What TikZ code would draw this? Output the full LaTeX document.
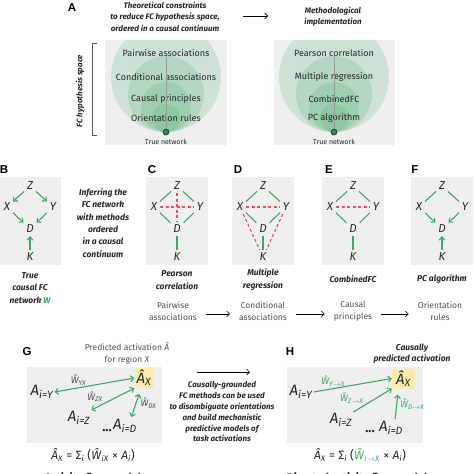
\documentclass[tikz,border=0pt]{standalone}
\usepackage{fontspec}
\setmainfont{Fira Sans}
\newfontfamily\panelfont{Liberation Sans}
\usetikzlibrary{arrows.meta}
\usetikzlibrary{positioning}
\definecolor{fcgreen}{RGB}{60,170,100}
\definecolor{fcred}{RGB}{230,80,100}
\definecolor{boxgray}{RGB}{239,239,239}
\definecolor{hlyellow}{RGB}{250,236,170}
\definecolor{txtgray}{RGB}{80,80,80}
\definecolor{txtdark}{RGB}{40,40,40}
\newcommand{\lowidx}[1]{\textsubscript{#1}}
\tikzstyle{panel}=[font=\panelfont\bfseries\fontsize{11.5}{12}\selectfont, inner sep=0pt]
\tikzstyle{heading}=[font=\bfseries\itshape\fontsize{8}{11.5}\selectfont,
  text=txtdark, align=center, inner sep=0pt]
\tikzstyle{stagelab}=[font=\fontsize{8.5}{12}\selectfont, text=txtgray,
  align=center, inner sep=0pt]
\tikzstyle{ringlab}=[font=\fontsize{9}{10}\selectfont, text=txtdark, inner sep=0pt]
\tikzstyle{smalltxt}=[font=\fontsize{7}{8}\selectfont, text=txtdark, inner sep=0pt]
\tikzstyle{graybox}=[fill=boxgray]
\tikzstyle{hypo}=[fill=fcgreen, fill opacity=0.18]
\tikzstyle{dotnet}=[circle, fill=fcgreen!80!black, draw=fcgreen!35!black,
  line width=0.6pt, minimum size=6pt, inner sep=0pt]
\tikzstyle{axis}=[draw=gray!80, line width=0.5pt]
\tikzstyle{bracket}=[draw=gray!70!black, line width=0.6pt]
\tikzstyle{vtx}=[font=\itshape\fontsize{11.5}{12}\selectfont, text=txtdark, inner sep=2pt]
\tikzstyle{undir}=[draw=fcgreen, line width=1.1pt, shorten >=1pt, shorten <=1pt]
\tikzstyle{spur}=[draw=fcred, line width=1.1pt, dash pattern=on 3pt off 2.5pt,
  shorten >=1pt, shorten <=1pt]
\tikzstyle{arrc}=[undir, -{Straight Barb[length=3.2pt,width=6pt]}]
\tikzstyle{flow}=[-{Straight Barb[length=3pt,width=6pt]}, line width=0.6pt]
\tikzstyle{avar}=[font=\itshape\fontsize{15}{15}\selectfont, text=txtdark, inner sep=1pt]
\tikzstyle{wlab}=[font=\itshape\fontsize{9.5}{9.5}\selectfont, text=txtgray, inner sep=1pt]
\tikzstyle{darr}=[draw=fcgreen, line width=1.1pt,
  {Straight Barb[length=3pt,width=6pt]}-{Straight Barb[length=3pt,width=6pt]}]
\tikzstyle{sarr}=[draw=fcgreen, line width=1.1pt, -{Straight Barb[length=3pt,width=6pt]}]
\tikzstyle{formula}=[font=\fontsize{12}{12}\selectfont, text=txtdark, inner sep=0pt]
\tikzstyle{modelname}=[font=\bfseries\fontsize{11}{12}\selectfont, text=txtdark, inner sep=0pt]

\begin{document}
\begin{tikzpicture}[x=1pt, y=-1pt]
\useasboundingbox (0,0) rectangle (474,474);

% A: hypothesis space and its implementation
\node[panel] (lblA) at (72,8) {A};
\node[heading] (theory) at (165,16.5) {Theoretical constraints\\to reduce FC hypothesis space,\\ordered in a causal continuum};
\node[heading] (method) at (333,16.5) {Methodological\\implementation};
\coordinate (theory-out) at (243,16);
\coordinate (method-in) at (268,16);
\draw[flow] (theory-out) -- (method-in);

\fill[graybox] (105,40) rectangle (227,145);
\fill[graybox] (274,40) rectangle (395,145);
\foreach \cx/\s in {166/l, 334/r}{
  \begin{scope}
    \clip (\cx-61,40) rectangle (\cx+61,145);
    \fill[hypo] (\cx,77) circle[radius=55pt];
    \fill[hypo] (\cx,94) circle[radius=38pt];
    \fill[hypo] (\cx,107) circle[radius=25pt];
    \fill[hypo] (\cx,118) circle[radius=14pt];
  \end{scope}
  \node[dotnet] (true-\s) at (\cx,132) {};
  \node[smalltxt] (truelab-\s) at (\cx,141.5) {True network};
}
\node[ringlab] (pw) at (166,53) {Pairwise associations};
\node[ringlab] (ca) at (166,77) {Conditional associations};
\node[ringlab] (cp) at (166,99) {Causal principles};
\node[ringlab] (or) at (166,118) {Orientation rules};
\node[ringlab] (pc) at (334,53) {Pearson correlation};
\node[ringlab] (mr) at (334,77) {Multiple regression};
\node[ringlab] (cf) at (334,99) {CombinedFC};
\node[ringlab] (pa) at (334,118) {PC algorithm};
\draw[axis] (pw.south) -- (true-l.north);
\draw[axis] (pc.south) -- (true-r.north);

\draw[bracket] (97,43) -- (92,43) -- (92,135) -- (97,135);
\node[heading, rotate=90] (hypspace) at (80,91) {FC hypothesis space};

% B--F: networks
\foreach \p/\cx/\l in {b/30/B, c/177/C, d/263/D, e/353/E, f/442/F}{
  \fill[graybox] (\cx-31,177) rectangle (\cx+31,265);
  \node[vtx] (\p-Z) at (\cx,186) {Z};
  \node[vtx] (\p-X) at (\cx-23,207) {X};
  \node[vtx] (\p-Y) at (\cx+23,207) {Y};
  \node[vtx] (\p-D) at (\cx,229) {D};
  \node[vtx] (\p-K) at (\cx,257) {K};
}
\node[panel] (lblB) at (4,170) {B};
\node[panel] (lblC) at (152,170) {C};
\node[panel] (lblD) at (238,170) {D};
\node[panel] (lblE) at (329,170) {E};
\node[panel] (lblF) at (415,170) {F};

\foreach \a/\b in {Z/X, Z/Y, X/D, Y/D, K/D}
  \draw[arrc] (b-\a) -- (b-\b);
\foreach \p in {c,d,e}
  \foreach \a/\b in {Z/X, Z/Y, X/D, Y/D, D/K}
    \draw[undir] (\p-\a) -- (\p-\b);
\draw[spur] (c-X) -- (c-Y);
\draw[spur] (c-Z) -- (c-D);
\draw[spur] (d-X) -- (d-Y);
\draw[spur] (d-X) -- (d-K);
\draw[spur] (d-Y) -- (d-K);
\draw[spur] (e-X) -- (e-Y);
\draw[undir] (f-Z) -- (f-X);
\draw[undir] (f-Z) -- (f-Y);
\foreach \a in {X,Y,K}
  \draw[arrc] (f-\a) -- (f-D);

\node[heading, font=\bfseries\itshape\fontsize{8.5}{12.5}\selectfont] (truew) at (30,288) {True\\causal FC\\network \textcolor{fcgreen}{W}};
\node[heading, font=\bfseries\itshape\fontsize{8.5}{12.4}\selectfont] (infer) at (103,223) {Inferring the\\FC network\\with methods\\ordered\\in a causal\\continuum};
\node[heading, font=\bfseries\itshape\fontsize{8.5}{13}\selectfont] (pearson) at (177,280) {Pearson\\correlation};
\node[heading, font=\bfseries\itshape\fontsize{8.5}{13}\selectfont] (multreg) at (263,280) {Multiple\\regression};
\node[heading, font=\bfseries\itshape\fontsize{8.5}{13}\selectfont] (combfc) at (353,279) {CombinedFC};
\node[heading, font=\bfseries\itshape\fontsize{8.5}{13}\selectfont] (pcalg) at (442,279) {PC algorithm};

\node[stagelab] (st1) at (173,311) {Pairwise\\associations};
\node[stagelab] (st2) at (263,311) {Conditional\\associations};
\node[stagelab] (st3) at (353,311) {Causal\\principles};
\node[stagelab] (st4) at (440,311) {Orientation\\rules};
\foreach \a/\b in {st1/st2, st2/st3, st3/st4}
  \draw[flow, shorten <=9pt, shorten >=9pt] ([yshift=-3pt]\a.east) -- ([yshift=-3pt]\b.west);

% G: activity flow model
\node[panel] (lblG) at (27,352) {G};
\node[stagelab] (predlab) at (127,353.5) {Predicted activation \textit{Â}\\for region \textit{X}};
\fill[graybox] (27,367) rectangle (162,443);
\node[avar, fill=hlyellow, minimum width=19pt, minimum height=20pt] (g-AX) at (144,378) {Â\lowidx{X}};
\node[avar] (g-AY) at (42,392) {A\lowidx{i=Y}};
\node[avar] (g-AZ) at (79,418) {A\lowidx{i=Z}};
\node[avar] (g-AD) at (125,426) {A\lowidx{i=D}};
\node[avar, font=\bfseries\fontsize{13}{13}\selectfont] (g-dots) at (107,431) {...};
\draw[darr] (g-AY.east) -- (g-AX.west) node[wlab, pos=0.3, above=1pt] {Ŵ\lowidx{YX}};
\draw[darr] (g-AZ.north east) -- (g-AX.south west) node[wlab, pos=0.3, above left=0pt] {Ŵ\lowidx{ZX}};
\draw[darr, shorten >=6pt, shorten <=1pt] ([xshift=6pt]g-AD.north) -- ([xshift=-3pt]g-AX.south) node[wlab, midway, right=3pt] {Ŵ\lowidx{DX}};
\node[formula] (g-eq) at (93,455) {\textit{Â}\lowidx{\textit{X}} = Σ\lowidx{\textit{i}} (\textit{Ŵ}\lowidx{\textit{iX}} × \textit{A}\lowidx{\textit{i}})};
\node[modelname] (g-model) at (93,478) {Activity flow model};

% from G to H
\coordinate (gh-from) at (197,372);
\coordinate (gh-to) at (250,372);
\draw[flow] (gh-from) -- (gh-to);
\node[heading, font=\bfseries\itshape\fontsize{8}{10.8}\selectfont] (bridge) at (222,412) {Causally-grounded\\FC methods can be used\\to disambiguate orientations\\and build mechanistic\\predictive models of\\task activations};

% H: directed activity flow model
\node[panel] (lblH) at (290,352) {H};
\node[heading, font=\bfseries\itshape\fontsize{8.5}{11.5}\selectfont] (causlab) at (412,353.5) {Causally\\predicted activation};
\fill[graybox] (287,367) rectangle (423,443);
\node[avar, fill=hlyellow, minimum width=23pt, minimum height=20pt] (h-AX) at (403.5,378.5) {Â\lowidx{X}};
\node[avar] (h-AY) at (301,392) {A\lowidx{i=Y}};
\node[avar] (h-AZ) at (341,420) {A\lowidx{i=Z}};
\node[avar] (h-AD) at (391,428) {A\lowidx{i=D}};
\node[avar, font=\bfseries\fontsize{13}{13}\selectfont] (h-dots) at (370,432) {...};
\draw[sarr] (h-AY.east) -- (h-AX.west) node[wlab, text=fcgreen, pos=0.25, above=1pt] {Ŵ\lowidx{Y$\to$X}};
\draw[sarr] (h-AZ.north east) -- (h-AX.south west) node[wlab, text=fcgreen, pos=0.3, above left=0pt] {Ŵ\lowidx{Z$\to$X}};
\draw[sarr, shorten >=6pt, shorten <=1pt] ([xshift=4pt]h-AD.north) -- ([xshift=-5pt]h-AX.south) node[wlab, text=fcgreen, midway, right=2pt] {Ŵ\lowidx{D$\to$X}};
\node[formula] (h-eq) at (360,455) {\textit{Â}\lowidx{\textit{X}} = Σ\lowidx{\textit{i}} (\textcolor{fcgreen}{\textit{Ŵ}\lowidx{\textit{i}$\to$\textit{X}}} × \textit{A}\lowidx{\textit{i}})};
\node[modelname] (h-model) at (357,478) {Directed activity flow model};
\end{tikzpicture}
\end{document}
